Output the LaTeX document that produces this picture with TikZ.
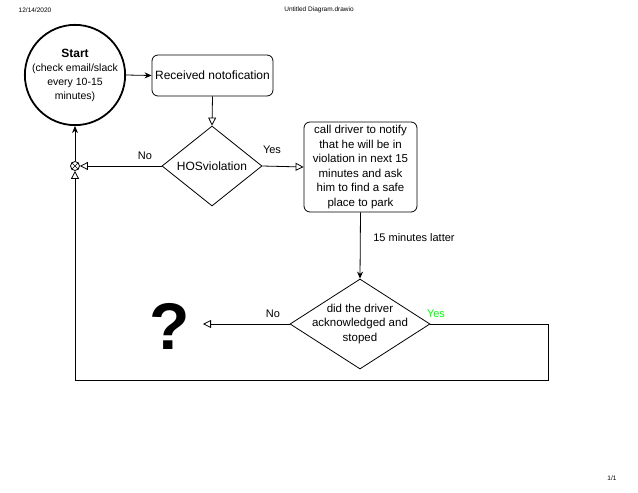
\documentclass[tikz,border=0pt]{standalone}
\usepackage{fontspec}
\setmainfont{Liberation Sans}
\usetikzlibrary{arrows.meta,shapes.geometric}
\begin{document}
\begin{tikzpicture}[x=1pt,y=-1pt,
  box/.style={draw,rounded corners=6pt,align=center,font=\fontsize{12}{14}\selectfont,inner sep=2pt},
  dia/.style={draw,diamond,align=center,font=\fontsize{12}{14}\selectfont,inner sep=0pt},
  lbl/.style={font=\fontsize{11}{13}\selectfont},
  oa/.style={-{Triangle[open,length=8pt,width=8pt]}},
  sa/.style={-{Stealth[length=7pt,width=6pt]}},
  line width=0.8pt]
\useasboundingbox (0,0) rectangle (638,493);
\node[font=\fontsize{6.5}{7}\selectfont] (d) at (35,10) {12/14/2020};
\node[font=\fontsize{6.5}{7}\selectfont] (t) at (319,10) {Untitled Diagram.drawio};
\node[font=\fontsize{6.5}{7}\selectfont] (p) at (612,478) {1/1};
\node[draw,circle,line width=1.8pt,minimum size=90pt,inner sep=0pt,align=center,font=\fontsize{10.5}{14}\selectfont] (start) at (75,75) {{\bfseries\fontsize{12}{14}\selectfont Start}\\(check email/slack\\every 10-15\\minutes)};
\node[box,minimum width=121pt,minimum height=41pt] (rec) at (212.5,75.5) {Received notofication};
\node[dia,aspect=1.25,minimum width=100pt,minimum height=80pt] (hos) at (212,166) {HOSviolation};
\node[draw,circle,inner sep=0pt,minimum size=9pt] (xc) at (75,166) {};
\draw[line width=0.7pt] (xc.45) -- (xc.225) (xc.135) -- (xc.315);
\node[box,minimum width=113pt,minimum height=90pt,font=\fontsize{11.5}{14.5}\selectfont] (call) at (360.5,167) {call driver to notify\\that he will be in\\violation in next 15\\minutes and ask\\him to find a safe\\place to park};
\node[dia,aspect=1.55,minimum width=140pt,minimum height=90pt] (ack) at (360,324) {};
\node[align=center,font=\fontsize{11.5}{14.5}\selectfont] (ackt) at (360,324) {did the driver\\acknowledged and\\stoped};
\node[font=\bfseries\fontsize{66}{66}\selectfont] (q) at (170,326) {?};
\coordinate (qa) at (203,324);
\coordinate (c1) at (548,324);
\coordinate (c2) at (548,380);
\coordinate (c3) at (75,380);
\draw[sa] (start.east) -- (rec.west);
\draw[oa] (rec.south) -- (hos.north);
\draw[oa] (hos.west) -- (xc.east);
\draw[oa] (hos.east) -- (call.west);
\draw[sa] (xc.north) -- (start.south);
\draw[sa] (call.south) -- (ack.north);
\draw[oa] (ack.west) -- (qa);
\draw[oa] (ack.east) -- (c1) -- (c2) -- (c3) -- (xc.south);
\node[lbl] (no1) at (145,156) {No};
\node[lbl] (yes1) at (272,150) {Yes};
\node[lbl] (m15) at (414,238) {15 minutes latter};
\node[lbl] (no2) at (273,314) {No};
\node[lbl,text=green] (yes2) at (436,314) {Yes};
\end{tikzpicture}
\end{document}
